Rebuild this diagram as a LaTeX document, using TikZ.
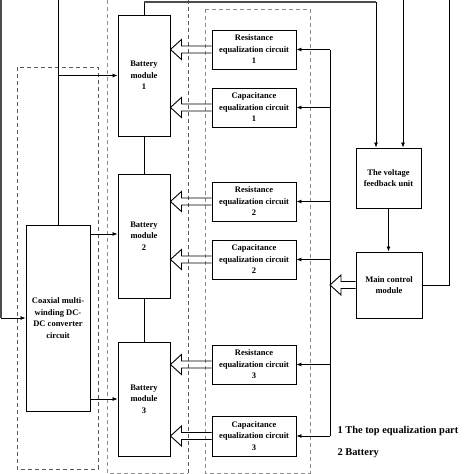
\documentclass[tikz,border=0pt]{standalone}
\usepackage{fontspec}
\setmainfont{Liberation Serif}
\usetikzlibrary{arrows.meta,calc}
\newcommand\hollowarrow[2]{%
  \draw[hollow] let \p1=(#1), \p2=(#2) in
    (\x1,\y1+3.5pt) -- (\x2+11pt,\y1+3.5pt) -- (\x2+11pt,\y1+10pt) -- (\x2,\y1)
    -- (\x2+11pt,\y1-10pt) -- (\x2+11pt,\y1-3.5pt) -- (\x1,\y1-3.5pt);}
\begin{document}
\begin{tikzpicture}[x=1pt,y=-1pt,
  box/.style={draw, line width=0.9pt, align=center, inner sep=1pt,
    font=\fontsize{8.5}{11.5}\selectfont\bfseries},
  arr/.style={line width=0.8pt, -{Latex[length=5pt,width=4pt]}},
  wire/.style={line width=0.8pt},
  dshdark/.style={black!65, line width=0.8pt, dash pattern=on 4pt off 3pt},
  dshlight/.style={black!45, line width=0.7pt, dash pattern=on 4pt off 3pt},
  hollow/.style={line width=0.9pt, line join=miter},
  legend/.style={anchor=west, font=\fontsize{10.4}{12}\selectfont\bfseries}]
\useasboundingbox (0,0) rectangle (474,474);

% dashed group frames
\draw[dshdark] (17,67) rectangle (98,469);
\draw[dshlight] (107,0) -- (107,473) -- (188,473);
\draw[dshdark] (188,0) -- (188,474);
\draw[dshlight] (205,9) rectangle (310,473);

% battery modules
\node[box, minimum width=52pt, minimum height=121pt] (b1) at (144,75.5) {Battery\\module\\1};
\node[box, minimum width=52pt, minimum height=124pt] (b2) at (144,236) {Battery\\module\\2};
\node[box, minimum width=52pt, minimum height=114pt] (b3) at (144,399) {Battery\\module\\3};

% equalization circuits
\node[box, minimum width=84pt, minimum height=39pt] (r1) at (254,49.5) {Resistance\\equalization circuit\\1};
\node[box, minimum width=84pt, minimum height=39pt] (c1) at (254,107.5) {Capacitance\\equalization circuit\\1};
\node[box, minimum width=84pt, minimum height=39pt] (r2) at (254,201.5) {Resistance\\equalization circuit\\2};
\node[box, minimum width=84pt, minimum height=39pt] (c2) at (254,259.5) {Capacitance\\equalization circuit\\2};
\node[box, minimum width=84pt, minimum height=39pt] (r3) at (254,364.5) {Resistance\\equalization circuit\\3};
\node[box, minimum width=84pt, minimum height=40pt] (c3) at (254,436) {Capacitance\\equalization circuit\\3};

% converter, feedback, control
\node[box, minimum width=64pt, minimum height=186pt] (coax) at (58,318) {Coaxial multi-\\winding DC-\\DC converter\\circuit};
\node[box, minimum width=65pt, minimum height=60pt] (fb) at (388.5,178) {The voltage\\feedback unit};
\node[box, minimum width=66pt, minimum height=66pt] (mc) at (389,285) {Main control\\module};

% legend
\node[legend] (l1) at (334,431) {1 The top equalization part};
\node[legend] (l2) at (334,453) {2 Battery};

% battery chain
\draw[wire] (b1.south) -- (b2.north);
\draw[wire] (b2.south) -- (b3.north);

% hollow arrows eq -> battery
\hollowarrow{r1.west}{b1.east}
\hollowarrow{c1.west}{b1.east}
\hollowarrow{r2.west}{b2.east}
\hollowarrow{c2.west}{b2.east}
\hollowarrow{r3.west}{b3.east}
\hollowarrow{c3.west}{b3.east}

% control bus
\coordinate (bustop) at (330,49.5);
\coordinate (busbot) at (330,436);
\draw[wire] (bustop) -- (busbot);
\draw[arr] (bustop) -- (r1.east);
\draw[arr] (bustop |- c1.east) -- (c1.east);
\draw[arr] (bustop |- r2.east) -- (r2.east);
\draw[arr] (bustop |- c2.east) -- (c2.east);
\draw[arr] (bustop |- r3.east) -- (r3.east);
\draw[arr] (busbot) -- (c3.east);
\coordinate (mctip) at (330,285);
\hollowarrow{mc.west}{mctip}

% feedback to main control
\draw[arr] (fb.south) -- (fb.south |- mc.north);

% top wiring
\coordinate (t1) at (144,2);
\coordinate (t2) at (376,2);
\coordinate (t3) at (403,0);
\coordinate (t4) at (449,0);
\draw[wire] (b1.north) -- (t1);
\draw[black!70, line width=1.6pt] (t1) -- (t2);
\draw[arr] (t2) -- (t2 |- fb.north);
\draw[arr] (t3) -- (t3 |- fb.north);
\draw[wire] (mc.east) -- (t4 |- mc.east) -- (t4);

% converter wiring
\coordinate (t5) at (58,0);
\draw[wire] (t5) -- (coax.north);
\draw[arr] (coax.north |- b1.west) -- (b1.west);
\draw[arr] (coax.east |- 0,234) -- (b2.west |- 0,234);
\draw[arr] (coax.east |- b3.west) -- (b3.west);
\coordinate (t6) at (1,0);
\draw[black!70, line width=1.2pt] (t6) -- (1,318);
\draw[arr] (1,318) -- (coax.west);
\end{tikzpicture}
\end{document}
